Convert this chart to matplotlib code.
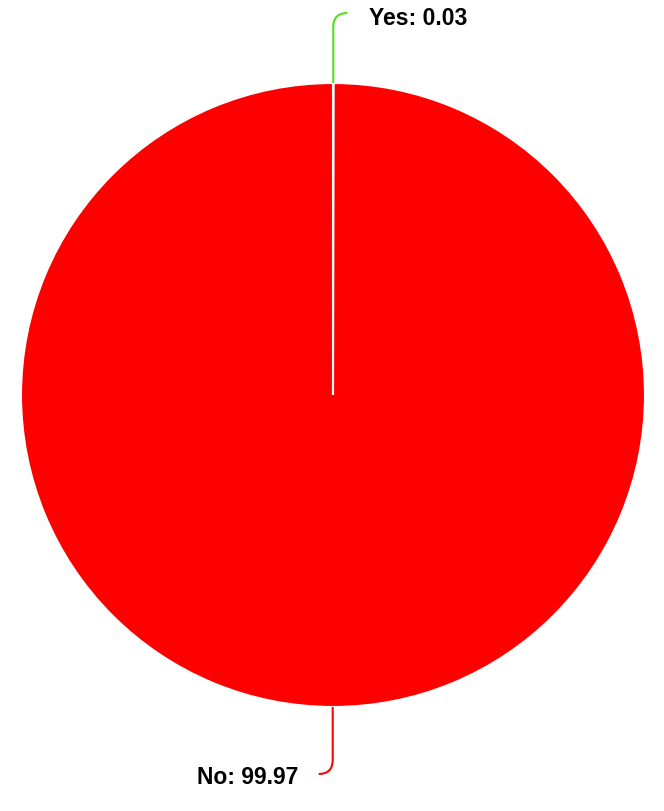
import numpy as np
import matplotlib.pyplot as plt
from matplotlib.path import Path
from matplotlib.patches import PathPatch

labels = ["Yes", "No"]
values = [0.03, 99.97]
colors = ["#55dd22", "#ff0000"]

W, H = 664, 811
cx, cy, r = 333, H - 395, 312


def connector(ax, angle_deg, length, side, color):
    a = np.deg2rad(angle_deg)
    x0, y0 = cx + r * np.cos(a), cy + r * np.sin(a)
    d = 1 if y0 > cy else -1
    y1 = y0 + d * (length - 14)
    x2, y2 = x0 + side * 14, y0 + d * length
    verts = [(x0, y0), (x0, y1), (x0, y2), (x2, y2)]
    codes = [Path.MOVETO, Path.LINETO, Path.CURVE3, Path.CURVE3]
    ax.add_patch(PathPatch(Path(verts, codes), fill=False, edgecolor=color, lw=1.5))
    return x2, y2


def main():
    fig = plt.figure(figsize=(W / 100, H / 100), dpi=100)
    ax = fig.add_axes([0, 0, 1, 1])

    wedges, _ = ax.pie(values, colors=colors, startangle=90, counterclock=False,
                       center=(cx, cy), radius=r, frame=True,
                       wedgeprops=dict(edgecolor="white", linewidth=1.5))
    ax.set_xlim(0, W)
    ax.set_ylim(0, H)
    ax.set_aspect("equal")
    ax.axis("off")

    font = dict(family=["Liberation Sans", "DejaVu Sans"], fontsize=16.5, fontweight="bold")
    for w, lab, val, col in zip(wedges, labels, values, colors):
        mid = (w.theta1 + w.theta2) / 2
        top = np.sin(np.deg2rad(mid)) > 0
        side = 1 if top else -1
        x2, y2 = connector(ax, mid, 70 if top else 67, side, col)
        gap = 22 if top else 20
        ax.text(x2 + side * gap, y2 - 5 if top else y2 - 4, f"{lab}: {val:.2f}",
                ha="left" if side > 0 else "right", va="center", color="black", **font)

    fig.savefig("out.png", dpi=100)


if __name__ == '__main__':
    main()
